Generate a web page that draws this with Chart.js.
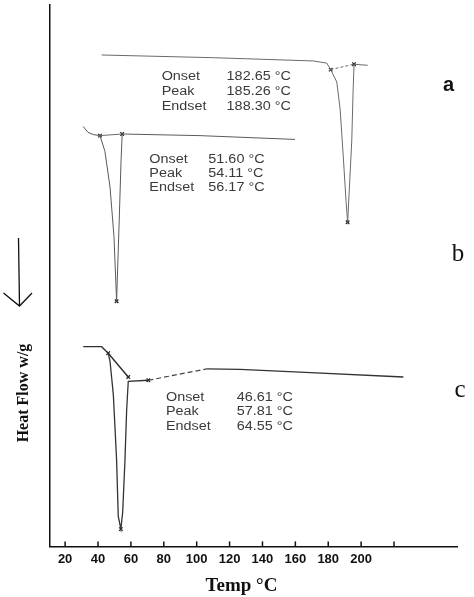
<!DOCTYPE html>
<html>
<head>
<meta charset="utf-8">
<script src="https://cdn.jsdelivr.net/npm/chart.js@4.4.1/dist/chart.umd.min.js"></script>
<style>
html,body{margin:0;padding:0;background:#fff;}
#wrap{width:474px;height:597px;position:relative;}
</style>
</head>
<body>
<div id="wrap"><canvas id="c"></canvas></div>
<script>
// ---- data (temperature °C, heat flow in arbitrary units, endo down) ----
const xTicks = [20, 40, 60, 80, 100, 120, 140, 160, 180, 200, 220];
const xTitle = 'Temp °C';
const yTitle = 'Heat Flow w/g';

const aTemp = [42.2, 110.1, 170.9, 179.1, 181.5, 185.2, 187.2, 189.2, 190.8, 191.8, 194.3, 195.1, 195.7, 199.3, 204.0];
const aFlow = [90.8, 90.3, 89.7, 89.3, 88.1, 85.8, 80.9, 71.8, 63.9, 59.9, 74.9, 84.0, 89.1, 89.0, 88.9];
const aTanTemp = [181.5, 195.7];
const aTanFlow = [88.1, 89.1];

const bTemp = [31.0, 33.9, 37.1, 41.2, 44.2, 47.3, 49.7, 51.3, 52.9, 54.0, 54.7, 102.0, 159.8];
const bFlow = [77.6, 76.5, 76.1, 75.9, 73.0, 66.4, 57.3, 45.3, 60.3, 71.2, 76.2, 75.9, 75.2];
const bTanTemp = [41.2, 54.7];
const bTanFlow = [75.9, 76.2];

const cTemp = [31.0, 42.2, 46.2, 47.3, 49.3, 51.3, 52.3, 53.9, 55.0, 56.4, 57.4, 58.4, 70.6];
const cFlow = [36.9, 36.9, 35.7, 34.2, 28.1, 16.0, 5.6, 3.2, 6.3, 16.0, 25.1, 30.5, 30.7];
const cDashTemp = [70.6, 106.1];
const cDashFlow = [30.7, 32.8];
const cTailTemp = [106.1, 126.3, 162.8, 225.7];
const cTailFlow = [32.8, 32.7, 32.2, 31.3];
const cTanTemp = [46.2, 58.4];
const cTanFlow = [35.7, 31.3];

const markTemp = [181.5, 195.7, 191.8, 41.2, 54.7, 51.3, 46.2, 58.4, 70.6, 53.9];
const markFlow = [88.1, 89.1, 59.9, 75.9, 76.2, 45.3, 35.7, 31.3, 30.7, 3.2];

const infoLabels = ['Onset', 'Peak', 'Endset'];
const aInfo = ['182.65 °C', '185.26 °C', '188.30 °C'];
const bInfo = ['51.60 °C', '54.11 °C', '56.17 °C'];
const cInfo = ['46.61 °C', '57.81 °C', '64.55 °C'];
const curveNames = ['a', 'b', 'c'];

const pts = (xs, ys) => xs.map((x, i) => ({x: x, y: ys[i]}));

// annotation anchors in data coordinates
const infoBlocks = [
  {labX: 78.7, valX: 118.2, ys: [86.7, 84.0, 81.2], vals: aInfo},
  {labX: 71.2, valX: 107.1, ys: [71.5, 68.9, 66.3], vals: bInfo},
  {labX: 81.3, valX: 124.3, ys: [27.4, 24.8, 22.2], vals: cInfo}
];
const nameAnchors = [
  {x: 253.1, y: 85.2, font: 'bold 20px "Liberation Sans", Arial, sans-serif'},
  {x: 258.9, y: 53.9, font: '25px "Liberation Serif", "Times New Roman", serif'},
  {x: 260.2, y: 28.8, font: '25px "Liberation Serif", "Times New Roman", serif'}
];

const decor = {
  id: 'decor',
  afterDraw(chart) {
    const ctx = chart.ctx;
    const xs = chart.scales.x, ys = chart.scales.y;
    ctx.save();
    // inward tick marks on x axis
    ctx.strokeStyle = '#111';
    ctx.lineWidth = 1.5;
    const base = chart.chartArea.bottom;
    xs.ticks.forEach(t => {
      const px = xs.getPixelForValue(t.value);
      ctx.beginPath();
      ctx.moveTo(px, base);
      ctx.lineTo(px, base - 5);
      ctx.stroke();
    });
    // info text blocks
    ctx.fillStyle = '#3a3a3a';
    ctx.font = '12px "Liberation Sans", Arial, sans-serif';
    ctx.textBaseline = 'middle';
    ctx.textAlign = 'left';
    const drawStretched = (txt, px, py, sx) => {
      ctx.save();
      ctx.translate(px, py);
      ctx.scale(sx, 1);
      ctx.fillText(txt, 0, 0);
      ctx.restore();
    };
    infoBlocks.forEach(b => {
      b.ys.forEach((yv, i) => {
        const py = ys.getPixelForValue(yv);
        drawStretched(infoLabels[i], xs.getPixelForValue(b.labX), py, 1.2);
        drawStretched(b.vals[i], xs.getPixelForValue(b.valX), py, 1.2);
      });
    });
    // curve letters
    ctx.fillStyle = '#111';
    ctx.textAlign = 'center';
    nameAnchors.forEach((n, i) => {
      ctx.font = n.font;
      ctx.fillText(curveNames[i], xs.getPixelForValue(n.x), ys.getPixelForValue(n.y));
    });
    // axis titles
    ctx.font = 'bold 19px "Liberation Serif", "Times New Roman", serif';
    ctx.textAlign = 'center';
    ctx.fillText(xTitle, 241.5, 586);
    ctx.save();
    ctx.translate(24, 393);
    ctx.rotate(-Math.PI / 2);
    ctx.font = 'bold 16px "Liberation Serif", "Times New Roman", serif';
    ctx.fillText(yTitle, 0, 0);
    ctx.restore();
    // heat-flow direction arrow
    ctx.strokeStyle = '#111';
    ctx.lineWidth = 1.3;
    ctx.beginPath();
    ctx.moveTo(18.5, 238);
    ctx.lineTo(19.5, 306);
    ctx.moveTo(3.5, 293);
    ctx.lineTo(19.5, 306);
    ctx.lineTo(32, 293);
    ctx.stroke();
    ctx.restore();
  }
};

const lineDs = (data, color, width, dash) => ({
  data: data, borderColor: color, borderWidth: width, borderDash: dash || [],
  pointRadius: 0, tension: 0, fill: false, showLine: true
});

new Chart(document.getElementById('c'), {
  type: 'scatter',
  data: {
    datasets: [
      lineDs(pts(aTemp, aFlow), '#6a6a6a', 1),
      lineDs(pts(aTanTemp, aTanFlow), '#6a6a6a', 1, [3, 2]),
      lineDs(pts(bTemp, bFlow), '#5a5a5a', 1),
      lineDs(pts(bTanTemp, bTanFlow), '#6a6a6a', 1),
      lineDs(pts(cTemp, cFlow), '#333', 1.3),
      lineDs(pts(cDashTemp, cDashFlow), '#444', 1.2, [5, 3]),
      lineDs(pts(cTailTemp, cTailFlow), '#333', 1.3),
      lineDs(pts(cTanTemp, cTanFlow), '#333', 1.5),
      {
        data: pts(markTemp, markFlow), showLine: false,
        pointStyle: 'crossRot', pointRadius: 2.5, borderColor: '#222', borderWidth: 1.2,
        backgroundColor: '#222'
      }
    ]
  },
  options: {
    responsive: true,
    maintainAspectRatio: false,
    animation: false,
    layout: {padding: {top: 2, right: 17, bottom: 25, left: 49.5}},
    plugins: {legend: {display: false}, tooltip: {enabled: false}},
    scales: {
      x: {
        type: 'linear', min: 10.5, max: 258.3,
        afterBuildTicks(scale) { scale.ticks = xTicks.map(v => ({value: v})); },
        grid: {display: false, drawTicks: false},
        border: {display: true, color: '#111', width: 1.5},
        ticks: {
          padding: 5, color: '#111', maxRotation: 0, autoSkip: false,
          font: {family: '"Liberation Sans", Arial, sans-serif', size: 13, weight: 'bold'},
          callback: v => (v === 220 ? '' : String(v))
        },
        title: {display: false}
      },
      y: {
        type: 'linear', min: 0, max: 100,
        grid: {display: false, drawTicks: false},
        border: {display: true, color: '#111', width: 1.5},
        ticks: {display: false},
        title: {display: false}
      }
    }
  },
  plugins: [decor]
});
</script>
</body>
</html>
